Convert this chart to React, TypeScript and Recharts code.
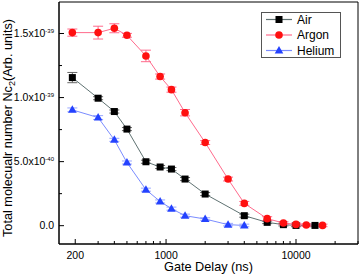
import React from 'react';
import { LineChart, Line, XAxis, YAxis, ErrorBar, Legend, ReferenceArea, Label } from 'recharts';

// values in units of 1e-39
const airDelay = [190, 300, 400, 500, 700, 900, 1100, 1400, 2000, 4000, 6000, 8000, 10000, 14000];
const airValue = [1.156, 0.995, 0.891, 0.754, 0.499, 0.458, 0.442, 0.364, 0.247, 0.078, 0.026, 0.008, 0.002, 0.002];
const airError = [0.04, 0.012, 0.012, 0.012, 0.012, 0.012, 0.012, 0.012, 0.012, 0.012, 0.01, 0.01, 0.01, 0.01];

const argonDelay = [190, 300, 400, 500, 700, 900, 1100, 1400, 2000, 3000, 4000, 6000, 8000, 10000, 12000, 16000];
const argonValue = [1.507, 1.507, 1.541, 1.486, 1.325, 1.164, 1.062, 0.882, 0.649, 0.364, 0.174, 0.055, 0.021, 0.01, 0.005, 0.002];
const argonError = [0.028, 0.05, 0.035, 0.015, 0.045, 0.02, 0.02, 0.025, 0.015, 0.015, 0.015, 0.015, 0.01, 0.01, 0.01, 0.01];

const heliumDelay = [190, 300, 400, 500, 700, 900, 1100, 1400, 2000, 3000, 4000];
const heliumValue = [0.904, 0.844, 0.67, 0.493, 0.281, 0.189, 0.133, 0.078, 0.052, 0.008, 0.002];
const heliumError = [0.015, 0.015, 0.012, 0.012, 0.012, 0.012, 0.012, 0.012, 0.01, 0.01, 0.01];

const xMajorTicks = [200, 1000, 10000];
const xMinorTicks = [300, 400, 500, 600, 700, 800, 900, 2000, 3000, 4000, 5000, 6000, 7000, 8000, 9000, 20000, 30000];
const yMajorTicks = [0, 0.5, 1.0, 1.5];
const yMajorLabels = ['0.0', '5.0x10', '1.0x10', '1.5x10'];
const yMajorExponents = ['', '-40', '-39', '-39'];
const yMinorTicks = [0.25, 0.75, 1.25];

const toRows = (d: number[], v: number[], e: number[]) => d.map((x, i) => ({ x, y: v[i], err: e[i] }));
const airData = toRows(airDelay, airValue, airError);
const argonData = toRows(argonDelay, argonValue, argonError);
const heliumData = toRows(heliumDelay, heliumValue, heliumError);

const FONT = '"Liberation Sans", Arial, sans-serif';

const series = [
  { name: 'Air', line: '#5f7272', marker: '#000000', shape: 'square' },
  { name: 'Argon', line: '#ff6a8c', marker: '#ff1010', shape: 'circle' },
  { name: 'Helium', line: '#7a8cff', marker: '#2442ff', shape: 'triangle' },
];

const Marker = ({ shape, cx, cy, color }: { shape: string; cx: number; cy: number; color: string }) => {
  if (shape === 'square') return <rect x={cx - 3.5} y={cy - 3.5} width={7} height={7} fill={color} />;
  if (shape === 'circle') return <circle cx={cx} cy={cy} r={3.8} fill={color} />;
  return <polygon points={`${cx},${cy - 4.5} ${cx + 4.3},${cy + 3} ${cx - 4.3},${cy + 3}`} fill={color} />;
};

const makeDot = (shape: string, color: string) => (p: any) => (
  <Marker key={`${shape}-${p.index}`} shape={shape} cx={p.cx} cy={p.cy} color={color} />
);

const XTick = (props: any) => {
  const { x, y, payload } = props;
  const major = xMajorTicks.includes(payload.value);
  const axisY = y - 6;
  return (
    <g>
      <line x1={x} x2={x} y1={axisY} y2={axisY - (major ? 5 : 3)} stroke="#000" strokeWidth={1} />
      {major && (
        <text x={x} y={axisY + 14.5} textAnchor="middle" fontSize={10.5} fontFamily={FONT} fill="#000">
          {payload.value}
        </text>
      )}
    </g>
  );
};

const YTick = (props: any) => {
  const { x, y, payload } = props;
  const idx = yMajorTicks.indexOf(payload.value);
  const axisX = x + 5;
  return (
    <g>
      <line x1={axisX} x2={axisX + (idx >= 0 ? 5 : 3)} y1={y} y2={y} stroke="#000" strokeWidth={1} />
      {idx >= 0 && (
        <text x={axisX - 5} y={y + 3.8} textAnchor="end" fontSize={10.5} fontFamily={FONT} fill="#000">
          {yMajorLabels[idx]}
          {yMajorExponents[idx] && (
            <tspan fontSize={6} dy={-4.5}>{yMajorExponents[idx]}</tspan>
          )}
        </text>
      )}
    </g>
  );
};

const LegendBox = () => (
  <svg width={80} height={46} style={{ display: 'block' }}>
    <rect x={0.5} y={0.5} width={79} height={45} fill="#fff" stroke="#555" strokeWidth={1} />
    {series.map((s, i) => {
      const cy = 7.5 + i * 15.5;
      return (
        <g key={s.name}>
          <line x1={5} x2={31} y1={cy} y2={cy} stroke={s.line} strokeWidth={1.2} />
          <Marker shape={s.shape} cx={18} cy={cy} color={s.marker} />
          <text x={36} y={cy + 4.3} fontSize={12} fontFamily={FONT} fill="#000">{s.name}</text>
        </g>
      );
    })}
  </svg>
);

const App: React.FC = () => {
  return (
    <div style={{ position: 'absolute', left: 0, top: 0, background: '#fff' }}>
      <LineChart width={362} height={277} margin={{ top: 2, right: 4, bottom: 0, left: 0 }}>
        <XAxis
          type="number"
          dataKey="x"
          scale="log"
          domain={[150, 30000]}
          allowDataOverflow
          ticks={[...xMajorTicks, ...xMinorTicks]}
          interval={0}
          tick={<XTick />}
          tickLine={false}
          tickSize={0}
          tickMargin={6}
          height={33}
          axisLine={{ stroke: '#000' }}
        >
          <Label
            content={() => (
              <text x={208.5} y={270.5} textAnchor="middle" fontSize={12.7} fontFamily={FONT} fill="#000">
                Gate Delay (ns)
              </text>
            )}
          />
        </XAxis>
        <YAxis
          type="number"
          domain={[-0.143, 1.746]}
          allowDataOverflow
          ticks={[...yMajorTicks, ...yMinorTicks]}
          interval={0}
          tick={<YTick />}
          tickLine={false}
          tickSize={0}
          tickMargin={5}
          width={59}
          axisLine={{ stroke: '#000' }}
        >
          <Label
            content={() => (
              <text transform="translate(12,128) rotate(-90)" textAnchor="middle" fontSize={12.7} fontFamily={FONT} fill="#000">
                Total molecualr number Nc
                <tspan fontSize={9} dy={3}>2</tspan>
                <tspan dy={-3}>(Arb. units)</tspan>
              </text>
            )}
          />
        </YAxis>
        <ReferenceArea x1={150} x2={30000} y1={-0.143} y2={1.746} fill="none" stroke="#000" strokeWidth={1} ifOverflow="visible" />
        <Line data={airData} dataKey="y" name="Air" stroke={series[0].line} strokeWidth={1} dot={makeDot('square', series[0].marker)} activeDot={false} isAnimationActive={false}>
          <ErrorBar dataKey="err" width={5} stroke="#666" strokeWidth={1} direction="y" isAnimationActive={false} />
        </Line>
        <Line data={argonData} dataKey="y" name="Argon" stroke={series[1].line} strokeWidth={1} dot={makeDot('circle', series[1].marker)} activeDot={false} isAnimationActive={false}>
          <ErrorBar dataKey="err" width={5} stroke="#ff6a8c" strokeWidth={1} direction="y" isAnimationActive={false} />
        </Line>
        <Line data={heliumData} dataKey="y" name="Helium" stroke={series[2].line} strokeWidth={1} dot={makeDot('triangle', series[2].marker)} activeDot={false} isAnimationActive={false}>
          <ErrorBar dataKey="err" width={5} stroke="#9aa8ff" strokeWidth={1} direction="y" isAnimationActive={false} />
        </Line>
        <Legend
          layout="vertical"
          align="center"
          verticalAlign="middle"
          content={() => <LegendBox />}
          wrapperStyle={{ position: 'absolute', left: 261, top: 12, width: 80, height: 46 }}
        />
      </LineChart>
    </div>
  );
};

export default App;
